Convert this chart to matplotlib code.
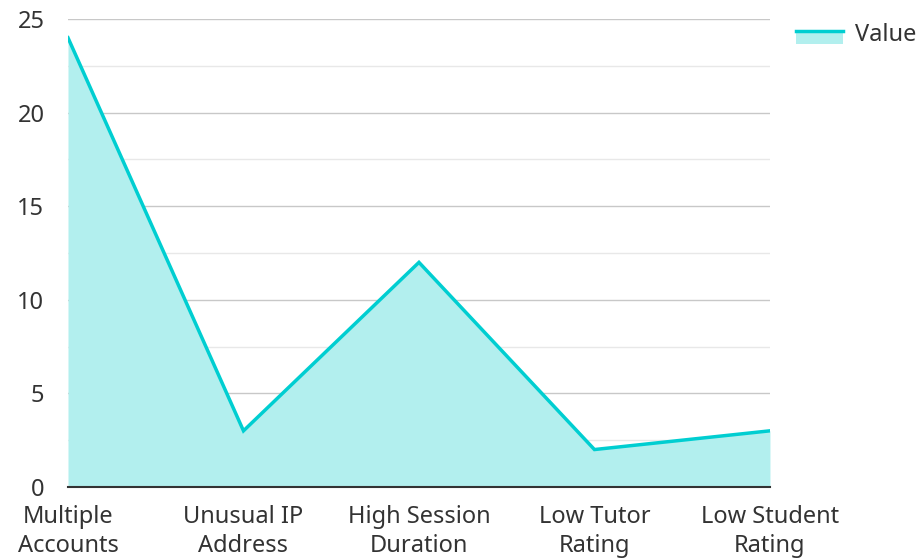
import matplotlib.pyplot as plt
from matplotlib.legend_handler import HandlerBase
from matplotlib.patches import Rectangle
from matplotlib.lines import Line2D

plt.rcParams['font.family'] = ['Noto Sans', 'DejaVu Sans']

categories = ["Multiple\nAccounts", "Unusual IP\nAddress", "High Session\nDuration",
              "Low Tutor\nRating", "Low Student\nRating"]
values = [24, 3, 12, 2, 3]
series_name = "Value"

line_color = '#00CED1'
fill_color = '#b2efee'
text_color = '#333333'


class AreaHandler(HandlerBase):
    def create_artists(self, legend, orig_handle, xdescent, ydescent,
                       width, height, fontsize, trans):
        rect = Rectangle((-xdescent, -ydescent - 2), width, height * 0.62 + 2,
                         facecolor=fill_color, edgecolor='none', transform=trans)
        ln = Line2D([-xdescent, -xdescent + width], [height * 0.62 - ydescent] * 2,
                    color=line_color, lw=2.5, transform=trans)
        return [rect, ln]


fig = plt.figure(figsize=(9.2, 5.6), dpi=100)
ax = fig.add_axes([0.0739, 0.1304, 0.7630, 0.8356])

x = list(range(len(categories)))
ax.fill_between(x, values, 0, color=fill_color, lw=0, zorder=2)
line, = ax.plot(x, values, color=line_color, lw=2.5, zorder=3, solid_joinstyle='miter')

ax.set_xlim(0, len(categories) - 1)
ax.set_ylim(0, 25)
ax.set_yticks(range(0, 26, 5))
ax.set_yticks([2.5 + 5 * i for i in range(5)], minor=True)
ax.set_xticks(x)
ax.set_xticklabels(categories, linespacing=1.3)

ax.grid(axis='y', which='major', color='#c8c8c8', lw=1, zorder=1)
ax.grid(axis='y', which='minor', color='#e8e8e8', lw=1, zorder=1)
for s in ['top', 'right', 'left']:
    ax.spines[s].set_visible(False)
ax.spines['bottom'].set_color('#333333')
ax.spines['bottom'].set_linewidth(1.5)
ax.spines['bottom'].set_zorder(4)

ax.tick_params(axis='both', which='both', length=0, labelsize=17, colors=text_color)
ax.tick_params(axis='x', pad=13)
ax.tick_params(axis='y', pad=17)

ax.legend([line], [series_name], handler_map={line: AreaHandler()},
          loc='upper left', bbox_to_anchor=(1.007, 1.036), frameon=False,
          fontsize=17, labelcolor=text_color, handlelength=2.0, handletextpad=0.5)

fig.savefig('out.png', dpi=100)
